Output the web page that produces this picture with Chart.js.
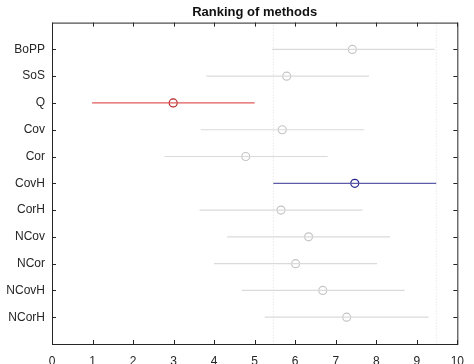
<!DOCTYPE html>
<html>
<head>
<meta charset="utf-8">
<script src="https://cdn.jsdelivr.net/npm/chart.js@4"></script>
<style>
  html, body { margin: 0; padding: 0; background: #fff; }
  #wrap { width: 474px; height: 364px; }
</style>
</head>
<body>
<div id="wrap"><canvas id="chart" width="474" height="364"></canvas></div>
<script>
// method names, top to bottom
const methods = ['BoPP', 'SoS', 'Q', 'Cov', 'Cor', 'CovH', 'CorH', 'NCov', 'NCor', 'NCovH', 'NCorH'];
// mean rank and comparison interval
const meanRank = [7.41, 5.79, 2.99, 5.68, 4.78, 7.47, 5.65, 6.33, 6.01, 6.68, 7.27];
const lower = [5.43, 3.81, 0.99, 3.67, 2.78, 5.46, 3.64, 4.32, 4.00, 4.68, 5.25];
const upper = [9.44, 7.82, 5.00, 7.70, 6.80, 9.48, 7.66, 8.34, 8.02, 8.70, 9.29];
// dotted reference lines (interval of selected group)
const refLines = [5.46, 9.48];
const xTicks = [0, 1, 2, 3, 4, 5, 6, 7, 8, 9, 10];

const highlight = { Q: ['#e25a5a', '#b22222'], CovH: ['#5c5ca8', '#24248c'] };
const FONT = 'Liberation Sans, Arial, sans-serif';

const datasets = [];

// dotted vertical lines
refLines.forEach(v => {
  datasets.push({
    type: 'line',
    data: [{ x: v, y: 0 }, { x: v, y: 12 }],
    borderColor: '#dcdcdc',
    borderWidth: 1,
    borderDash: [1, 2],
    pointRadius: 0
  });
});

// interval lines + mean circles
methods.forEach((m, i) => {
  const c = highlight[m] || ['#dadada', '#c4c4c4'];
  datasets.push({
    type: 'line',
    data: [{ x: lower[i], y: i + 1 }, { x: upper[i], y: i + 1 }],
    borderColor: c[0],
    borderWidth: highlight[m] ? 1.3 : 1.2,
    pointRadius: 0
  });
  datasets.push({
    type: 'scatter',
    data: [{ x: meanRank[i], y: i + 1 }],
    pointStyle: 'circle',
    pointRadius: 4,
    borderColor: c[1],
    borderWidth: 1.2,
    backgroundColor: 'rgba(0,0,0,0)'
  });
});

// axis box with inward ticks, MATLAB style
const framePlugin = {
  id: 'frame',
  afterDatasetsDraw(chart) {
    const { ctx, chartArea: a, scales } = chart;
    ctx.save();
    ctx.strokeStyle = '#262626';
    ctx.lineWidth = 1;
    ctx.strokeRect(a.left + 0.5, a.top + 0.5, a.right - a.left, a.bottom - a.top);
    ctx.beginPath();
    xTicks.forEach(v => {
      const px = Math.round(scales.x.getPixelForValue(v)) + 0.5;
      ctx.moveTo(px, a.bottom); ctx.lineTo(px, a.bottom - 4);
      ctx.moveTo(px, a.top); ctx.lineTo(px, a.top + 4);
    });
    methods.forEach((m, i) => {
      const py = Math.round(scales.y.getPixelForValue(i + 1)) + 0.5;
      ctx.moveTo(a.left, py); ctx.lineTo(a.left + 4, py);
      ctx.moveTo(a.right, py); ctx.lineTo(a.right - 4, py);
    });
    ctx.stroke();
    ctx.restore();
  }
};

new Chart(document.getElementById('chart'), {
  type: 'scatter',
  data: { datasets },
  options: {
    responsive: false,
    animation: false,
    layout: { padding: { top: 0, right: 15, bottom: 0, left: 0 } },
    plugins: {
      legend: { display: false },
      tooltip: { enabled: false },
      title: {
        display: true,
        text: 'Ranking of methods',
        fullSize: false,
        color: '#111',
        font: { family: FONT, size: 13, weight: 'bold' },
        padding: { top: 5, bottom: 2 }
      }
    },
    scales: {
      x: {
        type: 'linear',
        min: 0,
        max: 10,
        grid: { display: false, drawTicks: false, tickLength: 0 },
        border: { display: false },
        afterBuildTicks(s) { s.ticks = xTicks.map(v => ({ value: v })); },
        afterFit(s) { s.height = 20; },
        ticks: {
          padding: 10,
          color: '#262626',
          font: { family: FONT, size: 12 }
        }
      },
      y: {
        type: 'linear',
        min: 0,
        max: 12,
        reverse: true,
        grid: { display: false, drawTicks: false, tickLength: 0 },
        border: { display: false },
        afterBuildTicks(s) { s.ticks = methods.map((m, i) => ({ value: i + 1 })); },
        afterFit(s) { s.width = 52; },
        ticks: {
          autoSkip: false,
          padding: 7,
          color: '#262626',
          font: { family: FONT, size: 12 },
          callback: v => methods[v - 1] || ''
        }
      }
    }
  },
  plugins: [framePlugin]
});
</script>
</body>
</html>
